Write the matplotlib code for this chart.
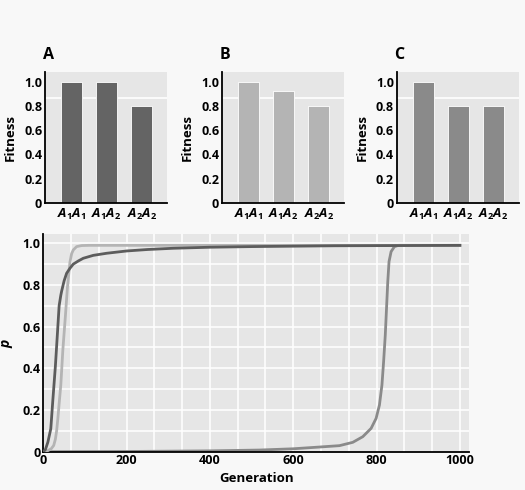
import numpy as np
import matplotlib
matplotlib.use("Agg")
import matplotlib.pyplot as plt

# ---- data -----------------------------------------------------------------
genotypes = ["$A_1A_1$", "$A_1A_2$", "$A_2A_2$"]
fit_a = [1.0, 1.0, 0.8]     # A1 dominant
fit_b = [1.0, 0.92, 0.8]    # additive
fit_c = [1.0, 0.8, 0.8]     # A1 recessive
panel_names = ["A", "B", "C"]

gen_a = [0, 5, 11, 18, 23, 29, 34, 38, 42, 44, 50, 56, 64, 72, 84, 96, 120, 152, 200, 250,
         312, 400, 500, 700, 1000]
p_a = [0.0, 0.01, 0.046, 0.11, 0.25, 0.41, 0.57, 0.70, 0.75, 0.77, 0.82, 0.856, 0.88, 0.90,
       0.915, 0.928, 0.942, 0.952, 0.963, 0.97, 0.976, 0.981, 0.984, 0.988, 0.99]

gen_b = [0, 10, 19, 25, 29, 32, 35, 38, 42, 47, 53, 58, 64, 68, 72, 80, 92, 110, 1000]
p_b = [0.0, 0.004, 0.014, 0.03, 0.06, 0.10, 0.16, 0.23, 0.32, 0.49, 0.65, 0.79, 0.91, 0.95,
       0.968, 0.984, 0.989, 0.99, 0.99]

gen_c = [0, 200, 400, 520, 600, 660, 711, 743, 767, 787, 799, 807, 813, 817, 821, 824, 827,
         830, 835, 843, 853, 1000]
p_c = [0.0, 0.001, 0.004, 0.008, 0.014, 0.022, 0.029, 0.045, 0.072, 0.112, 0.16, 0.224, 0.32,
       0.432, 0.56, 0.688, 0.816, 0.912, 0.96, 0.984, 0.99, 0.99]

bar_colors = ["#646464", "#b4b4b4", "#8a8a8a"]
bg = "#e6e6e6"

plt.rcParams["font.family"] = ["Open Sans", "DejaVu Sans"]
plt.rcParams["font.weight"] = "bold"
plt.rcParams["mathtext.fontset"] = "custom"
plt.rcParams["mathtext.it"] = "Open Sans:italic:bold"
plt.rcParams["mathtext.rm"] = "Open Sans:bold"

fig = plt.figure(figsize=(5.25, 4.9), dpi=100, facecolor="#f8f8f8")

lefts = [45, 222, 396.7]
for left, name, vals, col in zip(lefts, panel_names, [fit_a, fit_b, fit_c], bar_colors):
    ax = fig.add_axes([left / 525, (490 - 203) / 490, 122 / 525, 131 / 490])
    ax.set_facecolor(bg)
    ax.axhline(0.865, color="white", lw=1.2, zorder=0)
    ax.bar(range(3), vals, width=0.6, color=col, edgecolor="white", linewidth=0.6, zorder=2)
    ax.set_xlim(-0.75, 2.72)
    ax.set_ylim(0, 1.08)
    ax.set_yticks([0, 0.2, 0.4, 0.6, 0.8, 1.0])
    ax.set_yticklabels(["0", "0.2", "0.4", "0.6", "0.8", "1.0"])
    ax.set_xticks(range(3))
    ax.set_xticklabels(genotypes)
    ax.tick_params(length=0, labelsize=9, pad=2)
    ax.tick_params(axis="x", labelsize=9.5, pad=3)
    for s in ["top", "right"]:
        ax.spines[s].set_visible(False)
    for s in ["left", "bottom"]:
        ax.spines[s].set_linewidth(1.3)
    ax.set_ylabel("Fitness", fontsize=9.5, fontweight="bold", labelpad=5)
    ax.text(-0.02, 1.07, name, transform=ax.transAxes, fontsize=11.5, fontweight="bold",
            ha="left", va="bottom")

# ---- bottom: allele frequency trajectories -------------------------------
ax = fig.add_axes([43.3 / 525, (490 - 451.7) / 490, 425.7 / 525, 217.4 / 490])
ax.set_facecolor(bg)
ax.set_xlim(0, 1022)
ax.set_ylim(0, 1.043)
for gx in np.arange(1, 16) * 1000 / 15:
    ax.axvline(gx, color="white", lw=1.1, zorder=0)
for gy in np.arange(1, 11) * 0.1:
    ax.axhline(gy, color="white", lw=1.1, zorder=0)
ax.plot(gen_c, p_c, color="#8a8a8a", lw=2, zorder=2)
ax.plot(gen_b, p_b, color="#b4b4b4", lw=2, zorder=3)
ax.plot(gen_a, p_a, color="#5c5c5c", lw=2, zorder=4)
ax.set_xticks([0, 200, 400, 600, 800, 1000])
ax.set_yticks([0, 0.2, 0.4, 0.6, 0.8, 1.0])
ax.set_yticklabels(["0", "0.2", "0.4", "0.6", "0.8", "1.0"])
ax.tick_params(length=0, labelsize=9, pad=2)
for s in ["top", "right"]:
    ax.spines[s].set_visible(False)
for s in ["left", "bottom"]:
    ax.spines[s].set_linewidth(1.3)
ax.set_xlabel("Generation", fontsize=9.5, fontweight="bold", labelpad=3)
ax.set_ylabel("$p$", fontsize=10, labelpad=5)

fig.savefig("out.png", dpi=100, facecolor=fig.get_facecolor())
